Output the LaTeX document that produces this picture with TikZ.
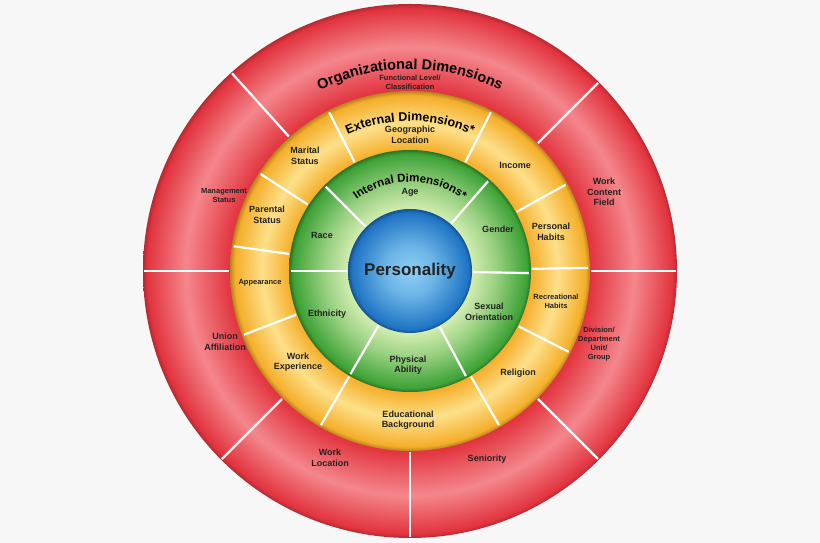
\documentclass[tikz,border=0pt]{standalone}
\usepackage{fontspec}
\setmainfont{Liberation Sans}
\usetikzlibrary{decorations.text,calc}
\definecolor{bg}{HTML}{F7F7F7}
\definecolor{redD}{HTML}{E2343F}
\definecolor{redL}{HTML}{F4878C}
\definecolor{yelD}{HTML}{F5AE2A}
\definecolor{yelL}{HTML}{FDE08A}
\definecolor{grnD}{HTML}{3DA236}
\definecolor{grnL}{HTML}{D2EDB0}
\definecolor{bluD}{HTML}{1F74C4}
\definecolor{bluL}{HTML}{8CD0F5}
\definecolor{txt}{HTML}{222222}
\pgfdeclareradialshading{redring}{\pgfpoint{0bp}{0bp}}{color(0bp)=(redD); color(16.9bp)=(redD); color(21bp)=(redL); color(24.6bp)=(redD); color(25bp)=(redD!80!black); color(50bp)=(redD!80!black)}
\pgfdeclareradialshading{yelring}{\pgfpoint{0bp}{0bp}}{color(0bp)=(yelD); color(16.8bp)=(yelD); color(20.5bp)=(yelL); color(24.4bp)=(yelD); color(25bp)=(yelD!75!black); color(50bp)=(yelD!75!black)}
\pgfdeclareradialshading{grnring}{\pgfpoint{0bp}{0bp}}{color(0bp)=(grnL); color(12.8bp)=(grnL); color(18bp)=(grnL!60!grnD); color(24.2bp)=(grnD); color(25bp)=(grnD!70!black); color(50bp)=(grnD!70!black)}
\pgfdeclareradialshading{bluball}{\pgfpoint{0bp}{0bp}}{color(0bp)=(bluL); color(10bp)=(bluL!70!bluD); color(23.5bp)=(bluD); color(25bp)=(bluD!70!black); color(50bp)=(bluD!70!black)}
\begin{document}
\begin{tikzpicture}[x=1pt,y=1pt,
  lbl/.style={font=\bfseries\fontsize{9}{10.5}\selectfont, text=txt, align=center, inner sep=0pt},
  slbl/.style={lbl, font=\bfseries\fontsize{7.5}{9}\selectfont},
  divider/.style={white, line width=2.2pt}]
\fill[bg] (0,0) rectangle (820,543);
\coordinate (c) at (410,272);
\shade[shading=redring] (c) circle[radius=267];
\shade[shading=yelring] (c) circle[radius=180];
\shade[shading=grnring] (c) circle[radius=121];
\shade[shading=bluball] (c) circle[radius=62];
% dividers
\foreach \a in {45,0,-45,-90,-135,180,132}
  \draw[divider] ($(c)+(\a:181)$) -- ($(c)+(\a:266)$);
\foreach \a in {117,63,29,1,-27,-60,-120,-159,172,147}
  \draw[divider] ($(c)+(\a:122)$) -- ($(c)+(\a:178)$);
\foreach \a in {135,49,-1,-62,-120,180}
  \draw[divider] ($(c)+(\a:63)$) -- ($(c)+(\a:119)$);
% titles
\path[decorate, decoration={text along path, text align=center,
  text={|\bfseries\fontsize{14.5}{16}\selectfont|Organizational Dimensions}}]
  ($(c)+(140:202)$) arc[start angle=140, end angle=40, radius=202];
\path[decorate, decoration={text along path, text align=center,
  text={|\bfseries\fontsize{12.5}{14}\selectfont|External Dimensions*}}]
  ($(c)+(135:150)$) arc[start angle=135, end angle=45, radius=150];
\path[decorate, decoration={text along path, text align=center,
  text={|\bfseries\fontsize{11.5}{13}\selectfont|Internal Dimensions*}}]
  ($(c)+(145:89)$) arc[start angle=145, end angle=35, radius=89];
% center
\node[font=\bfseries\fontsize{17}{20}\selectfont, text=txt] (pers) at (c) {Personality};
% labels
\node[slbl] (func) at ($(c)+(0,189)$) {Functional Level/\\Classification};
\node[lbl] (geo) at ($(c)+(0,136)$) {Geographic\\Location};
\node[lbl] (mar) at ($(c)+(-105,115)$) {Marital\\Status};
\node[lbl] (inc) at ($(c)+(105,106)$) {Income};
\node[slbl] (mgmt) at ($(c)+(-186,76)$) {Management\\Status};
\node[lbl] (par) at ($(c)+(-143,56)$) {Parental\\Status};
\node[lbl] (wcf) at ($(c)+(194,79)$) {Work\\Content\\Field};
\node[lbl] (ph) at ($(c)+(141,39)$) {Personal\\Habits};
\node[lbl] (age) at ($(c)+(0,79)$) {Age};
\node[lbl] (race) at ($(c)+(-88,36)$) {Race};
\node[lbl] (gen) at ($(c)+(88,42)$) {Gender};
\node[slbl] (app) at ($(c)+(-150,-12)$) {Appearance};
\node[slbl] (rec) at ($(c)+(146,-30)$) {Recreational\\Habits};
\node[lbl] (eth) at ($(c)+(-83,-43)$) {Ethnicity};
\node[lbl] (sex) at ($(c)+(79,-41)$) {Sexual\\Orientation};
\node[lbl] (uni) at ($(c)+(-185,-71)$) {Union\\Affiliation};
\node[slbl] (div) at ($(c)+(189,-73)$) {Division/\\Department\\Unit/\\Group};
\node[lbl] (wex) at ($(c)+(-112,-91)$) {Work\\Experience};
\node[lbl] (phy) at ($(c)+(-2,-94)$) {Physical\\Ability};
\node[lbl] (rel) at ($(c)+(108,-102)$) {Religion};
\node[lbl] (edu) at ($(c)+(-2,-149)$) {Educational\\Background};
\node[lbl] (wloc) at ($(c)+(-80,-187)$) {Work\\Location};
\node[lbl] (sen) at ($(c)+(77,-188)$) {Seniority};
\end{tikzpicture}
\end{document}
